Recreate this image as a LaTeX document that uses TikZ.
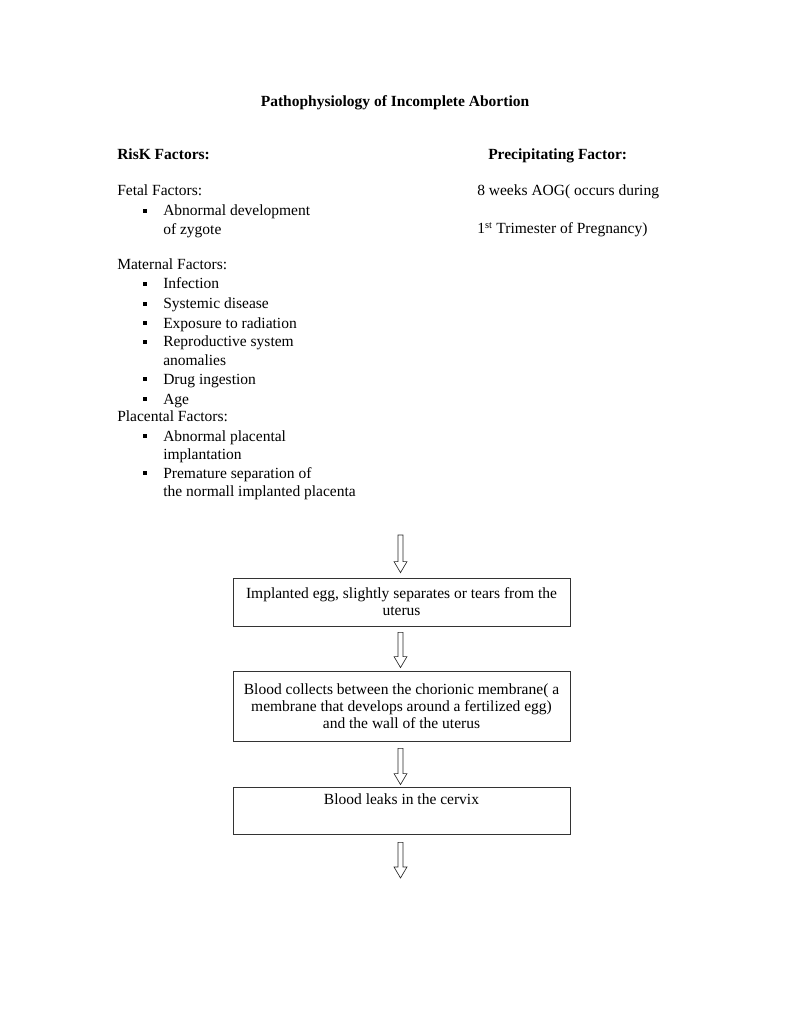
\documentclass[tikz,border=0pt]{standalone}
\usepackage{fontspec}
\setmainfont{Liberation Serif}
\usetikzlibrary{calc}
\newcommand{\hollowarrow}[2]{%
  \draw[blockarr] let \p1=(#1), \p2=(#2) in
    (\x1-1.9pt,\y1) -- (\x1-1.9pt,\y2+8.5pt) -- (\x1-5pt,\y2+8.5pt) -- (\x1,\y2)
    -- (\x1+5pt,\y2+8.5pt) -- (\x1+1.9pt,\y2+8.5pt) -- (\x1+1.9pt,\y1) -- cycle;}
\begin{document}
\begin{tikzpicture}[x=0.7737pt,y=-0.7737pt,
  every node/.style={font=\fontsize{12pt}{13.8pt}\selectfont, inner sep=0pt},
  txt/.style={anchor=base west},
  hdr/.style={anchor=base west, font=\fontsize{12pt}{13.8pt}\selectfont\bfseries},
  bul/.style={fill=black, minimum size=3.4pt, inner sep=0pt},
  flowbox/.style={draw=black!80, line width=0.6pt, minimum width=260.7pt, align=center,
    font=\fontsize{12pt}{13.2pt}\selectfont},
  blockarr/.style={draw=black!85, line width=0.5pt, fill=white}]
\useasboundingbox (0,0) rectangle (791,1023);
% title and headings
\node[anchor=base, font=\fontsize{12pt}{13.8pt}\selectfont\bfseries] (title) at (395,107) {Pathophysiology of Incomplete Abortion};
\node[hdr] (risk) at (117,160) {RisK Factors:};
\node[hdr] (precip) at (488,160) {Precipitating Factor:};
% precipitating factor
\node[txt] (p1) at (477,196) {8 weeks AOG( occurs during};
\node[txt] (p2) at (477,234) {1\textsuperscript{st} Trimester of Pregnancy)};
% fetal
\node[txt] (fetal) at (117,196) {Fetal Factors:};
\node[bul] (b1) at (145,211) {};
\node[txt] (f1) at (163,216) {Abnormal development};
\node[txt] (f1b) at (163,235) {of zygote};
% maternal
\node[txt] (maternal) at (117,270) {Maternal Factors:};
\node[bul] (b2) at (145,284) {};
\node[txt] (m1) at (163,289) {Infection};
\node[bul] (b3) at (145,304) {};
\node[txt] (m2) at (163,309) {Systemic disease};
\node[bul] (b4) at (145,323) {};
\node[txt] (m3) at (163,328) {Exposure to radiation};
\node[bul] (b5) at (145,342) {};
\node[txt] (m4) at (163,347) {Reproductive system};
\node[txt] (m4b) at (163,365) {anomalies};
\node[bul] (b6) at (145,379) {};
\node[txt] (m5) at (163,384) {Drug ingestion};
\node[bul] (b7) at (145,399) {};
\node[txt] (m6) at (163,404) {Age};
% placental
\node[txt] (placental) at (117,421) {Placental Factors:};
\node[bul] (b8) at (145,436) {};
\node[txt] (pl1) at (163,441) {Abnormal placental};
\node[txt] (pl1b) at (163,459) {implantation};
\node[bul] (b9) at (145,473) {};
\node[txt] (pl2) at (163,478) {Premature separation of};
\node[txt] (pl2b) at (163,496) {the normall implanted placenta};
% flow boxes
\node[flowbox, minimum height=37.1pt] (box1) at (401.5,602) {Implanted egg, slightly separates or tears from the\\uterus};
\node[flowbox, minimum height=54.2pt] (box2) at (401.5,706) {Blood collects between the chorionic membrane( a\\membrane that develops around a fertilized egg)\\and the wall of the uterus};
\node[flowbox, minimum height=36.4pt] (box3) at (401.5,810.5) {Blood leaks in the cervix\\\strut};
% arrows
\coordinate (start) at (400.5,535);
\coordinate (end) at (400.5,878);
\coordinate (a1e) at ($(box1.north)+(-1,-5)$);
\coordinate (a2s) at ($(box1.south)+(-1,6)$);
\coordinate (a2e) at ($(box2.north)+(-1,-3)$);
\coordinate (a3s) at ($(box2.south)+(-1,7)$);
\coordinate (a3e) at ($(box3.north)+(-1,-2)$);
\coordinate (a4s) at ($(box3.south)+(-1,8)$);
\hollowarrow{start}{a1e}
\hollowarrow{a2s}{a2e}
\hollowarrow{a3s}{a3e}
\hollowarrow{a4s}{end}
\end{tikzpicture}
\end{document}
